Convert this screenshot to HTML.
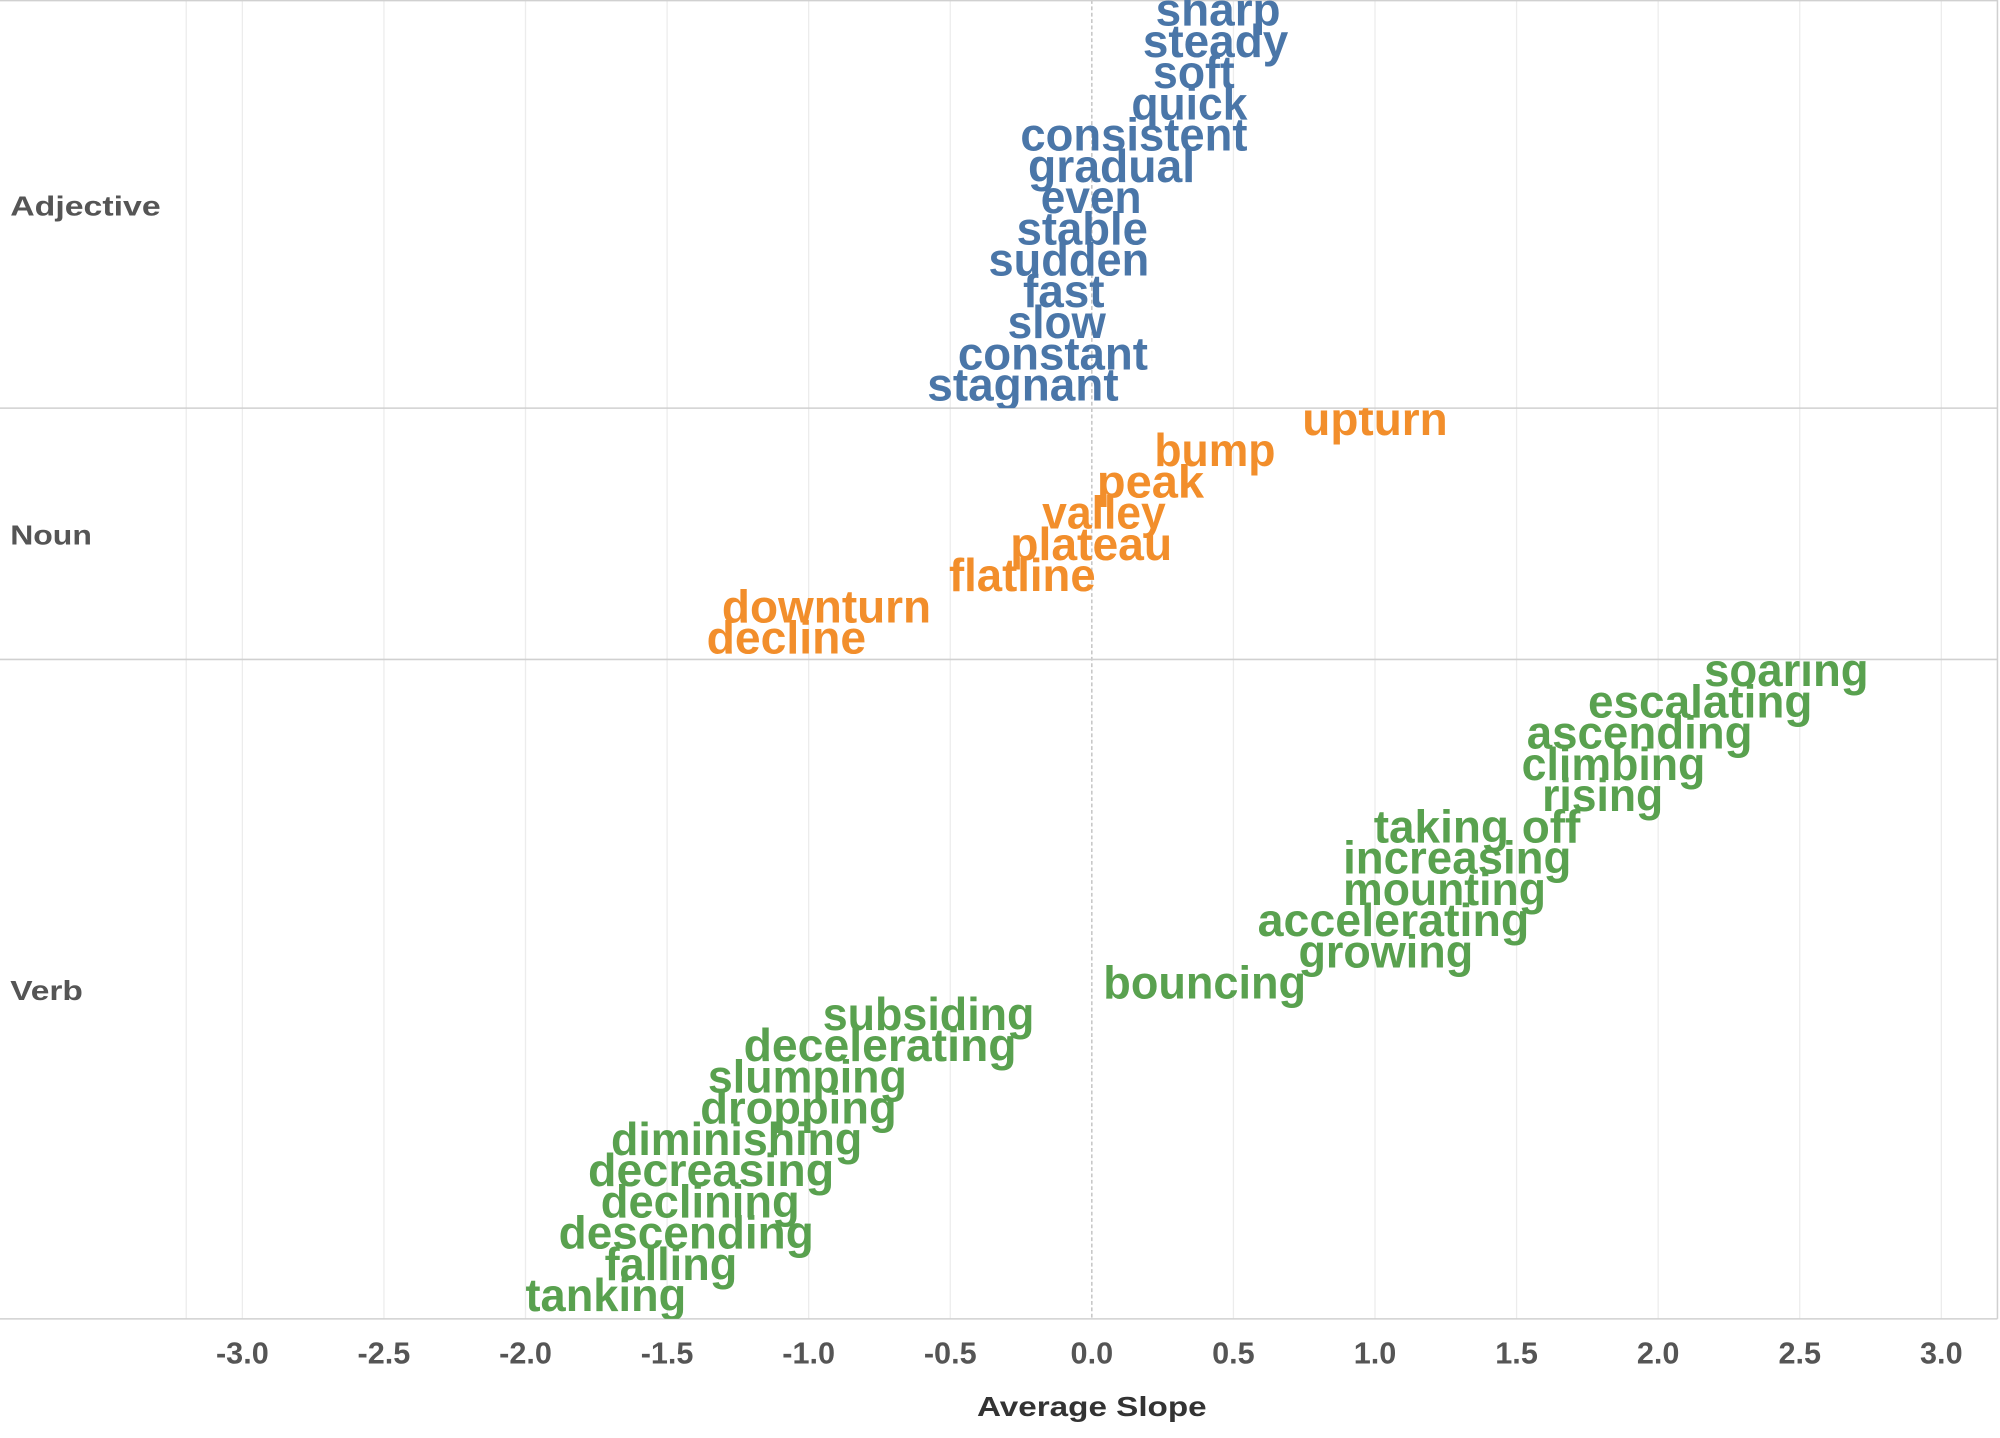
<!DOCTYPE html>
<html><head><meta charset="utf-8"><style>html,body{margin:0;padding:0;background:#fff}svg{display:block}</style></head><body>
<svg xmlns="http://www.w3.org/2000/svg" width="2000" height="1438" viewBox="0 0 1568 1127.4">
<defs>
<clipPath id="c1"><rect x="146" y="0" width="1420" height="320"/></clipPath>
<clipPath id="c2"><rect x="146" y="320" width="1420" height="197"/></clipPath>
<clipPath id="c3"><rect x="146" y="517" width="1420" height="517"/></clipPath>
</defs>
<rect width="1568" height="1127.4" fill="#fff"/>
<g stroke="#ececec" stroke-width="1">
<line x1="146" y1="0" x2="146" y2="1034"/>
<line x1="190" y1="0" x2="190" y2="1034"/><line x1="301" y1="0" x2="301" y2="1034"/><line x1="412" y1="0" x2="412" y2="1034"/><line x1="523" y1="0" x2="523" y2="1034"/><line x1="634" y1="0" x2="634" y2="1034"/><line x1="745" y1="0" x2="745" y2="1034"/><line x1="967" y1="0" x2="967" y2="1034"/><line x1="1078" y1="0" x2="1078" y2="1034"/><line x1="1189" y1="0" x2="1189" y2="1034"/><line x1="1300" y1="0" x2="1300" y2="1034"/><line x1="1411" y1="0" x2="1411" y2="1034"/><line x1="1522" y1="0" x2="1522" y2="1034"/>
</g>
<line x1="856" y1="0" x2="856" y2="1034" stroke="#bbb" stroke-dasharray="3,2"/>
<g stroke="#d0d0d0" stroke-width="1.2">
<line x1="0" y1="0.5" x2="1566" y2="0.5"/><line x1="0" y1="320" x2="1566" y2="320"/><line x1="0" y1="517" x2="1566" y2="517"/><line x1="0" y1="1034" x2="1566" y2="1034"/><line x1="1566" y1="0" x2="1566" y2="1034"/>
</g>
<g font-family="Liberation Sans, sans-serif" font-weight="bold" font-size="22" fill="#555">
<text x="8" y="169" textLength="118" lengthAdjust="spacingAndGlyphs">Adjective</text><text x="8" y="427" textLength="64" lengthAdjust="spacingAndGlyphs">Noun</text><text x="8" y="784" textLength="57" lengthAdjust="spacingAndGlyphs">Verb</text>
</g>
<g font-family="Liberation Sans, sans-serif" font-weight="bold" font-size="36">
<g fill="#4a76a8" clip-path="url(#c1)">
<text x="906" y="20" textLength="98" lengthAdjust="spacingAndGlyphs">sharp</text>
<text x="896" y="44.5" textLength="114" lengthAdjust="spacingAndGlyphs">steady</text>
<text x="904" y="69" textLength="64" lengthAdjust="spacingAndGlyphs">soft</text>
<text x="887" y="93.5" textLength="91" lengthAdjust="spacingAndGlyphs">quick</text>
<text x="800" y="118" textLength="178" lengthAdjust="spacingAndGlyphs">consistent</text>
<text x="806" y="142.5" textLength="131" lengthAdjust="spacingAndGlyphs">gradual</text>
<text x="816" y="167" textLength="79" lengthAdjust="spacingAndGlyphs">even</text>
<text x="797" y="191.5" textLength="103" lengthAdjust="spacingAndGlyphs">stable</text>
<text x="775" y="216" textLength="126" lengthAdjust="spacingAndGlyphs">sudden</text>
<text x="802" y="240.5" textLength="64" lengthAdjust="spacingAndGlyphs">fast</text>
<text x="790" y="265" textLength="77" lengthAdjust="spacingAndGlyphs">slow</text>
<text x="751" y="289.5" textLength="149" lengthAdjust="spacingAndGlyphs">constant</text>
<text x="727" y="314" textLength="150" lengthAdjust="spacingAndGlyphs">stagnant</text>
</g>
<g fill="#f28e2b" clip-path="url(#c2)">
<text x="1021" y="341" textLength="114" lengthAdjust="spacingAndGlyphs">upturn</text>
<text x="905" y="365.5" textLength="95" lengthAdjust="spacingAndGlyphs">bump</text>
<text x="860" y="390" textLength="84" lengthAdjust="spacingAndGlyphs">peak</text>
<text x="817" y="414.5" textLength="97" lengthAdjust="spacingAndGlyphs">valley</text>
<text x="792" y="439" textLength="127" lengthAdjust="spacingAndGlyphs">plateau</text>
<text x="744" y="463.5" textLength="115" lengthAdjust="spacingAndGlyphs">flatline</text>
<text x="566" y="488" textLength="164" lengthAdjust="spacingAndGlyphs">downturn</text>
<text x="554" y="512.5" textLength="125" lengthAdjust="spacingAndGlyphs">decline</text>
</g>
<g fill="#59a14f" clip-path="url(#c3)">
<text x="1336" y="538" textLength="129" lengthAdjust="spacingAndGlyphs">soaring</text>
<text x="1245" y="562.5" textLength="176" lengthAdjust="spacingAndGlyphs">escalating</text>
<text x="1197" y="587" textLength="177" lengthAdjust="spacingAndGlyphs">ascending</text>
<text x="1193" y="611.5" textLength="144" lengthAdjust="spacingAndGlyphs">climbing</text>
<text x="1209" y="636" textLength="95" lengthAdjust="spacingAndGlyphs">rising</text>
<text x="1077" y="660.5" textLength="162" lengthAdjust="spacingAndGlyphs">taking off</text>
<text x="1053" y="685" textLength="179" lengthAdjust="spacingAndGlyphs">increasing</text>
<text x="1053" y="709.5" textLength="159" lengthAdjust="spacingAndGlyphs">mounting</text>
<text x="986" y="734" textLength="213" lengthAdjust="spacingAndGlyphs">accelerating</text>
<text x="1018" y="758.5" textLength="137" lengthAdjust="spacingAndGlyphs">growing</text>
<text x="865" y="783" textLength="159" lengthAdjust="spacingAndGlyphs">bouncing</text>
<text x="645" y="807.5" textLength="166" lengthAdjust="spacingAndGlyphs">subsiding</text>
<text x="583" y="832" textLength="214" lengthAdjust="spacingAndGlyphs">decelerating</text>
<text x="555" y="856.5" textLength="156" lengthAdjust="spacingAndGlyphs">slumping</text>
<text x="549" y="881" textLength="154" lengthAdjust="spacingAndGlyphs">dropping</text>
<text x="479" y="905.5" textLength="197" lengthAdjust="spacingAndGlyphs">diminishing</text>
<text x="461" y="930" textLength="193" lengthAdjust="spacingAndGlyphs">decreasing</text>
<text x="471" y="954.5" textLength="156" lengthAdjust="spacingAndGlyphs">declining</text>
<text x="438" y="979" textLength="200" lengthAdjust="spacingAndGlyphs">descending</text>
<text x="474" y="1003.5" textLength="104" lengthAdjust="spacingAndGlyphs">falling</text>
<text x="412" y="1028" textLength="126" lengthAdjust="spacingAndGlyphs">tanking</text>
</g>
</g>
<g font-family="Liberation Sans, sans-serif" font-weight="bold" font-size="24" fill="#555" text-anchor="middle">
<text x="190" y="1069">-3.0</text><text x="301" y="1069">-2.5</text><text x="412" y="1069">-2.0</text><text x="523" y="1069">-1.5</text><text x="634" y="1069">-1.0</text><text x="745" y="1069">-0.5</text><text x="856" y="1069">0.0</text><text x="967" y="1069">0.5</text><text x="1078" y="1069">1.0</text><text x="1189" y="1069">1.5</text><text x="1300" y="1069">2.0</text><text x="1411" y="1069">2.5</text><text x="1522" y="1069">3.0</text>
</g>
<text x="766" y="1110" textLength="180" lengthAdjust="spacingAndGlyphs" font-family="Liberation Sans, sans-serif" font-weight="bold" font-size="22" fill="#333">Average Slope</text>
</svg>
</body></html>
